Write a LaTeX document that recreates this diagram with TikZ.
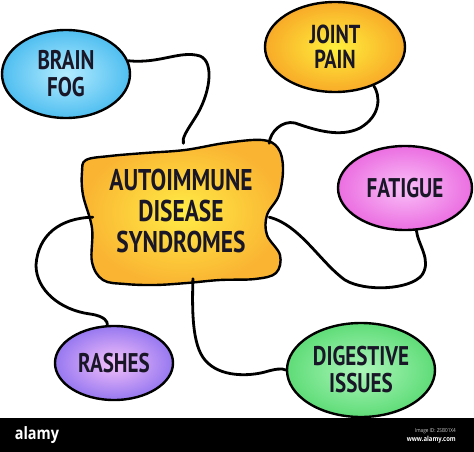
\documentclass[tikz,border=0pt]{standalone}
\usepackage{fontspec}
\usetikzlibrary{shapes.geometric}
\newfontfamily\hand[FakeStretch=0.78]{PT Sans}
\newfontfamily\marksans[FakeStretch=0.85]{Open Sans}
\definecolor{ink}{RGB}{25,22,40}
\definecolor{fogin}{RGB}{180,236,255}
\definecolor{fogout}{RGB}{79,190,240}
\definecolor{painin}{RGB}{255,240,60}
\definecolor{painout}{RGB}{248,170,40}
\definecolor{synin}{RGB}{255,236,70}
\definecolor{synout}{RGB}{250,180,50}
\definecolor{tiredin}{RGB}{250,192,248}
\definecolor{tiredout}{RGB}{235,110,225}
\definecolor{rashin}{RGB}{245,192,250}
\definecolor{rashout}{RGB}{150,120,240}
\definecolor{digin}{RGB}{172,246,186}
\definecolor{digout}{RGB}{95,220,120}
\tikzset{
	bubble/.style={ellipse, draw=black, line width=2.4pt, inner sep=0pt, align=center, text=ink, font={\hand\bfseries\fontsize{27}{27}\selectfont}},
	link/.style={draw=black, line width=2.8pt, line cap=round},
}

\begin{document}
\begin{tikzpicture}[x=1pt, y=-1pt]
				\useasboundingbox (0,0) rectangle (474,452);
				\coordinate (F) at (66,74);
				\coordinate (J) at (335,47);
				\coordinate (S) at (181,211);
				\coordinate (T) at (405,188);
				\coordinate (R) at (114,363);
				\coordinate (D) at (361,370);
				
				\shadedraw[line width=2.4pt, inner color=synin, outer color=synout] plot[smooth cycle, tension=0.6] coordinates {(86,160) (110,156) (145,153) (185,150) (225,143) (262,140) (278,148) (283,168) (279,195) (267,215) (267,235) (280,255) (276,273) (255,279) (220,280) (187,283) (155,285) (125,284) (103,280) (92,262) (92,228) (83,195) (82,172)};
				\node[align=center, inner sep=0pt, minimum width=176, minimum height=135, text=ink, font={\hand\bfseries\fontsize{30}{31}\selectfont}] (syn) at (S) {AUTOIMMUNE\\DISEASE\\SYNDROMES};
				
				\node[bubble, minimum width=128, minimum height=88, inner color=fogin, outer color=fogout] (fog) at (F) {BRAIN\\FOG};
				\node[bubble, minimum width=140, minimum height=90, inner color=painin, outer color=painout, font={\hand\bfseries\fontsize{26}{25}\selectfont}] (pain) at (J) {JOINT\\PAIN};
				\node[bubble, minimum width=134, minimum height=84, inner color=tiredin, outer color=tiredout] (tired) at (T) {FATIGUE};
				\node[bubble, minimum width=118, minimum height=74, inner color=rashin, outer color=rashout] (rash) at (R) {RASHES};
				\node[bubble, minimum width=148, minimum height=94, inner color=digin, outer color=digout] (dig) at (D) {DIGESTIVE\\ISSUES};
				
				\draw[link] (fog.12) .. controls (160,64) and (180,50) .. (200,56) .. controls (215,62) and (210,95) .. (195,118) .. controls (186,132) and (182,138) .. (syn.88);
				\draw[link] (pain.-45) .. controls (380,95) and (382,115) .. (360,128) .. controls (340,138) and (315,130) .. (295,123) .. controls (282,120) and (270,132) .. (syn.north east);
				\draw[link] (syn.-4) .. controls (300,225) and (320,262) .. (345,280) .. controls (365,292) and (410,290) .. (422,275) .. controls (432,260) and (418,245) .. (tired.-75);
				\draw[link] (syn.184) .. controls (60,218) and (38,235) .. (36,265) .. controls (36,290) and (60,310) .. (90,314) .. controls (105,316) and (108,322) .. (rash.100);
				\draw[link] (syn.-80) .. controls (192,310) and (192,345) .. (205,360) .. controls (220,378) and (250,376) .. (265,372) .. controls (275,369) and (282,368) .. (dig.west);
				
				\fill[black] (0,418) rectangle (474,452);
				\node[text=white, inner sep=0pt, font={\marksans\bfseries\fontsize{17}{17}\selectfont}] (logo) at (37,435) {alamy};
				\node[anchor=east, text=white!80!black, inner sep=0pt, font={\marksans\fontsize{5.5}{6}\selectfont}] (imgid) at (456,431) {Image ID: 2SB01X4};
				\node[anchor=east, text=white, inner sep=0pt, font={\marksans\bfseries\fontsize{7}{8}\selectfont}] (site) at (456,440) {www.alamy.com};
			\end{tikzpicture}
\end{document}
